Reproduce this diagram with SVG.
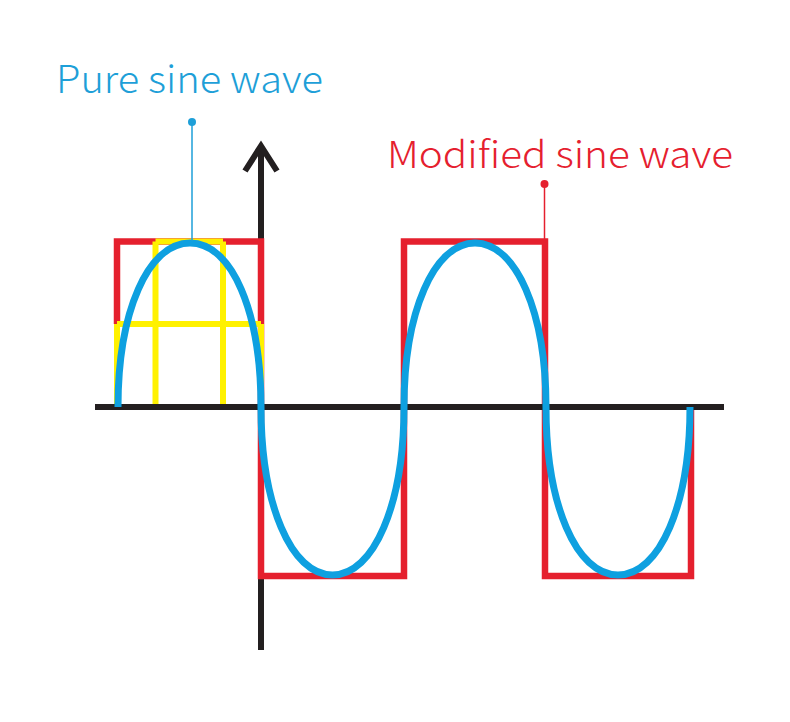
<svg xmlns="http://www.w3.org/2000/svg" width="790" height="722" viewBox="0 0 790 722">
<style>
.ax{fill:none;stroke:#231f20;stroke-width:6}
.red{fill:none;stroke:#e5202e;stroke-width:6.5}
.yel{fill:none;stroke:#fff100;stroke-width:6}
.blue{fill:none;stroke:#0ea0e0;stroke-width:7}
.lbl{font-family:"Noto Sans CJK SC","Noto Sans","Open Sans",sans-serif;font-weight:300}
</style>
<rect width="790" height="722" fill="#ffffff"/>
<g id="y-axis">
<line class="ax" x1="261" y1="148" x2="261" y2="650"/>
<polyline class="ax" points="245,171 261,146 277,171" stroke-linejoin="miter"/>
</g>
<g id="modified-wave">
<path class="red" d="M117,324 V241.5 H261 V576 H404 V241.5 H545 V576 H691 V407"/>
</g>
<g id="steps">
<path class="yel" d="M117,324 H261 M117,324 V407 M261,324 V407 M155.5,241.5 V407 M223,241.5 V407 M155.5,241.5 H223"/>
</g>
<g id="x-axis">
<line class="ax" x1="95" y1="407" x2="724" y2="407"/>
</g>
<g id="pure-wave">
<path class="blue" d="M118,407 C118,312 148,243 190,243 C232,243 261,312 261,407 C261,504 291,575 332.5,575 C374,575 404,504 404,407 C404,312 434,243 475,243 C516,243 546,312 546,407 C546,504 576,575 618,575 C660,575 690,504 690,407"/>
</g>
<g id="connectors">
<line x1="192" y1="122" x2="192" y2="241" stroke="#1e9fd8" stroke-width="1.5"/>
<circle cx="192" cy="122" r="4" fill="#1e9fd8"/>
<line x1="544.5" y1="184" x2="544.5" y2="240" stroke="#e5202e" stroke-width="1.5"/>
<circle cx="544.5" cy="184" r="4" fill="#e5202e"/>
</g>
<g id="label-pure">
<text class="lbl" x="56" y="92.5" font-size="38" fill="#1e9fd8" textLength="267" lengthAdjust="spacingAndGlyphs">Pure sine wave</text>
</g>
<g id="label-modified">
<text class="lbl" x="387" y="168" font-size="37" fill="#e5202e" textLength="346" lengthAdjust="spacingAndGlyphs">Modified sine wave</text>
</g>
</svg>
